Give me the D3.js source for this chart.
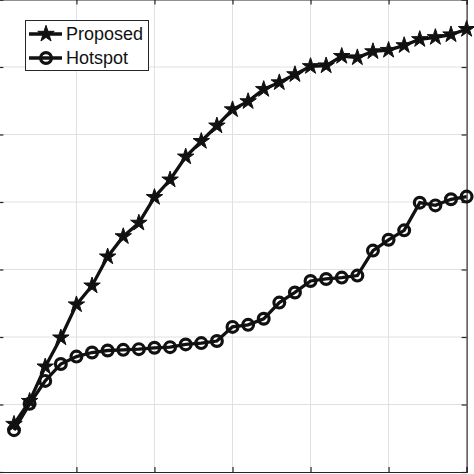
<!DOCTYPE html>
<html>
<head>
<meta charset="utf-8">
<script src="https://cdn.jsdelivr.net/npm/d3@7"></script>
<style>
  html, body { margin: 0; padding: 0; background: #fff; overflow: hidden; }
  svg { display: block; }
</style>
</head>
<body>
<div id="chart"></div>
<script>
// data (x = 1..30, y in grid units)
const xs = d3.range(1, 31);
const proposed = [0.71, 1.05, 1.56, 1.99, 2.48, 2.76, 3.19, 3.49, 3.69, 4.07,
                  4.33, 4.67, 4.90, 5.13, 5.37, 5.49, 5.67, 5.77, 5.89, 6.01,
                  6.02, 6.16, 6.14, 6.23, 6.25, 6.32, 6.41, 6.44, 6.48, 6.56];
const hotspot = [0.62, 1.01, 1.35, 1.60, 1.71, 1.77, 1.80, 1.81, 1.82, 1.84,
                 1.85, 1.89, 1.91, 1.94, 2.15, 2.18, 2.27, 2.51, 2.66, 2.83,
                 2.86, 2.88, 2.91, 3.28, 3.44, 3.58, 3.99, 3.95, 4.04, 4.08];
const xTicks = [0, 5, 10, 15, 20, 25, 30];
const yTicks = [0, 1, 2, 3, 4, 5, 6, 7];
const legendNames = ['Proposed', 'Hotspot'];

const W = 474, H = 474;
const svg = d3.select('#chart').append('svg')
    .attr('width', W)
    .attr('height', H);

// axes box is cropped a bit on the left and top
const x = d3.scaleLinear().domain([0, 30]).range([-1.6, 466.6]);
const y = d3.scaleLinear().domain([0, 7]).range([472, -0.5]);

// grid
const grid = svg.append('g');
grid.selectAll('.gx').data(xTicks.slice(1, -1)).join('line')
    .attr('x1', d => x(d)).attr('x2', d => x(d))
    .attr('y1', y(7)).attr('y2', y(0))
    .attr('stroke', '#e0e0e0').attr('stroke-width', 1);
grid.selectAll('.gy').data(yTicks.slice(1, -1)).join('line')
    .attr('x1', x(0)).attr('x2', x(30))
    .attr('y1', d => y(d)).attr('y2', d => y(d))
    .attr('stroke', '#e0e0e0').attr('stroke-width', 1);

// axes with inward ticks
const axisColor = '#262626';
svg.append('g').attr('transform', `translate(0,${y(0)})`)
    .call(d3.axisBottom(x).tickValues(xTicks).tickSize(-5).tickFormat(''));
svg.append('g').attr('transform', `translate(0,${y(7)})`)
    .call(d3.axisTop(x).tickValues(xTicks).tickSize(-5).tickFormat(''));
svg.append('g').attr('transform', `translate(${x(0)},0)`)
    .call(d3.axisLeft(y).tickValues(yTicks).tickSize(-5).tickFormat(''));
svg.append('g').attr('transform', `translate(${x(30)},0)`)
    .call(d3.axisRight(y).tickValues(yTicks).tickSize(-5).tickFormat(''));
svg.selectAll('.domain, .tick line')
    .attr('stroke', axisColor).attr('stroke-width', 1.2);

const line = d3.line().x((d, i) => x(xs[i])).y(d => y(d));
const star = d3.symbol().type(d3.symbolStar).size(84);

// hotspot
svg.append('path').datum(hotspot)
    .attr('d', line).attr('fill', 'none')
    .attr('stroke', '#111').attr('stroke-width', 3.3);
svg.selectAll('.hc').data(hotspot).join('circle')
    .attr('cx', (d, i) => x(xs[i])).attr('cy', d => y(d))
    .attr('r', 5.4).attr('fill', 'none')
    .attr('stroke', '#111').attr('stroke-width', 3.2);

// proposed
svg.append('path').datum(proposed)
    .attr('d', line).attr('fill', 'none')
    .attr('stroke', '#111').attr('stroke-width', 3.3);
svg.selectAll('.ps').data(proposed).join('path')
    .attr('d', star)
    .attr('transform', (d, i) => `translate(${x(xs[i])},${y(d)})`)
    .attr('fill', '#111').attr('stroke', '#111').attr('stroke-width', 1);

// legend
const lg = svg.append('g');
lg.append('rect')
    .attr('x', 25.5).attr('y', 20.5).attr('width', 123).attr('height', 50)
    .attr('fill', '#fff').attr('stroke', axisColor).attr('stroke-width', 1);
const rows = lg.selectAll('.row').data(legendNames).join('g')
    .attr('transform', (d, i) => `translate(0,${34 + i * 24})`);
rows.append('line')
    .attr('x1', 29).attr('x2', 62).attr('y1', 0).attr('y2', 0)
    .attr('stroke', '#111').attr('stroke-width', 3.3);
rows.filter((d, i) => i === 0).append('path')
    .attr('d', star).attr('transform', 'translate(46,0)')
    .attr('fill', '#111').attr('stroke', '#111').attr('stroke-width', 1);
rows.filter((d, i) => i === 1).append('circle')
    .attr('cx', 46).attr('cy', 0).attr('r', 5.4)
    .attr('fill', 'none').attr('stroke', '#111').attr('stroke-width', 3.2);
rows.append('text')
    .attr('x', 66).attr('y', 0).attr('dy', '0.36em')
    .attr('font-family', 'Liberation Sans, Arial, sans-serif')
    .attr('font-size', 18).attr('fill', '#111')
    .text(d => d);
</script>
</body>
</html>
